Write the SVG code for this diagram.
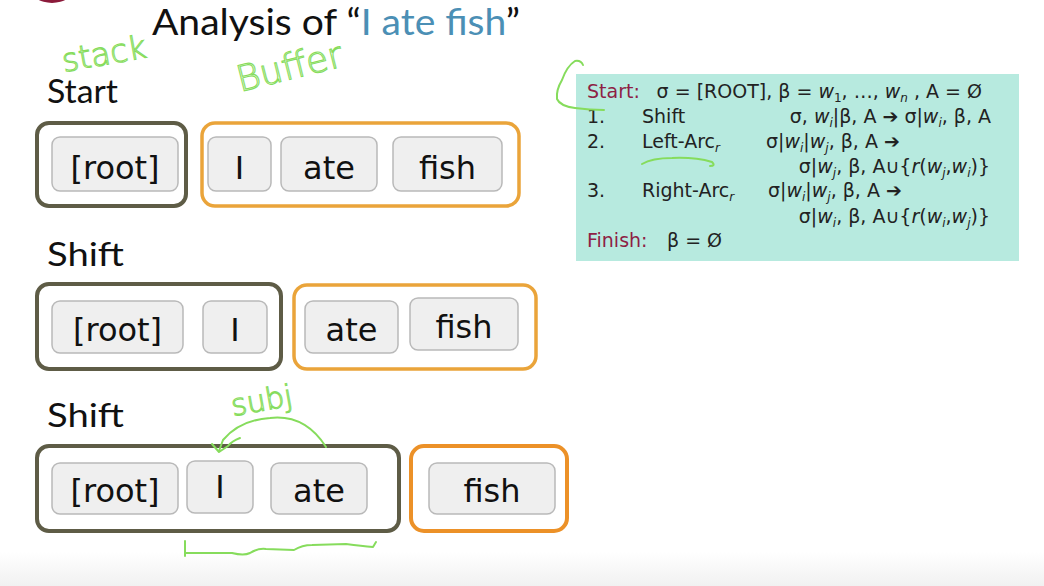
<svg xmlns="http://www.w3.org/2000/svg" width="1044" height="586" viewBox="0 0 1044 586">
<defs>
<linearGradient id="floor" x1="0" y1="0" x2="0" y2="1">
<stop offset="0" stop-color="#ffffff"/>
<stop offset="1" stop-color="#f1f1f1"/>
</linearGradient>
<style>
.title{font-family:"Lato","Open Sans",sans-serif;font-size:37px;fill:#111}
.lbl{font-family:"Lato","Open Sans",sans-serif;font-size:33px;fill:#111}
.stack{fill:#fff;stroke:#5e5c46;stroke-width:4}
.buf{fill:#fff;stroke:#eaa43a;stroke-width:3.5}
.buf2{fill:#fff;stroke:#ec9128;stroke-width:4}
.tok{fill:#efefef;stroke:#b9b9b9;stroke-width:1.5}
.tt{font-family:"DejaVu Sans",sans-serif;font-size:32px;fill:#111;text-anchor:middle}
.p{font-family:"DejaVu Sans",sans-serif;font-size:19px;fill:#222}
.kw{fill:#8e1f45}
.it{font-style:italic}
.sb{font-size:12px}
.hw{font-family:"DejaVu Sans",sans-serif;font-weight:200;fill:none;stroke:#86dc5c;stroke-width:1.1}
.ink{fill:none;stroke:#86dc5c;stroke-width:2;stroke-linecap:round;stroke-linejoin:round}
</style>
</defs>
<rect width="1044" height="586" fill="#fff"/>
<rect y="552" width="1044" height="34" fill="url(#floor)"/>
<ellipse cx="52" cy="-12" rx="22" ry="15" fill="#8b1a3a"/>

<g id="title">
<text class="title" x="152" y="35" textLength="368" lengthAdjust="spacingAndGlyphs">Analysis of “<tspan fill="#4b8fb5">I ate fish</tspan>”</text>
</g>

<g id="labels">
<text class="lbl" x="47" y="103" textLength="71" lengthAdjust="spacingAndGlyphs">Start</text>
<text class="lbl" x="47" y="266" textLength="77" lengthAdjust="spacingAndGlyphs">Shift</text>
<text class="lbl" x="47" y="427" textLength="77" lengthAdjust="spacingAndGlyphs">Shift</text>
</g>

<!-- Row 1 -->
<g id="stack1">
<rect class="stack" x="37" y="123" width="149" height="83" rx="12"/>
<rect class="tok" x="52" y="137" width="126" height="54" rx="8"/>
<text class="tt" x="115" y="179">[root]</text>
</g>
<g id="buffer1">
<rect class="buf" x="202" y="123" width="317" height="83" rx="13"/>
<rect class="tok" x="208" y="137" width="63" height="54" rx="8"/>
<text class="tt" x="239.5" y="179">I</text>
<rect class="tok" x="281" y="137" width="96" height="54" rx="8"/>
<text class="tt" x="329" y="179">ate</text>
<rect class="tok" x="393" y="137" width="109" height="54" rx="8"/>
<text class="tt" x="447.5" y="179">fish</text>
</g>

<!-- Row 2 -->
<g id="stack2">
<rect class="stack" x="37" y="284" width="244" height="85" rx="12"/>
<rect class="tok" x="52" y="301" width="131" height="52" rx="8"/>
<text class="tt" x="117.5" y="341">[root]</text>
<rect class="tok" x="203" y="301" width="64" height="52" rx="8"/>
<text class="tt" x="235" y="341">I</text>
</g>
<g id="buffer2">
<rect class="buf" x="294" y="285" width="242" height="84" rx="13"/>
<rect class="tok" x="305" y="301" width="93" height="52" rx="8"/>
<text class="tt" x="351.5" y="341">ate</text>
<rect class="tok" x="410" y="298" width="108" height="52" rx="8"/>
<text class="tt" x="464" y="338">fish</text>
</g>

<!-- Row 3 -->
<g id="stack3">
<rect class="stack" x="37" y="446" width="362" height="85" rx="12"/>
<rect class="tok" x="52" y="463" width="126" height="51" rx="8"/>
<text class="tt" x="115" y="502">[root]</text>
<rect class="tok" x="187" y="461" width="66" height="52" rx="8"/>
<text class="tt" x="220" y="498">I</text>
<rect class="tok" x="271" y="463" width="96" height="51" rx="8"/>
<text class="tt" x="319" y="502">ate</text>
</g>
<g id="buffer3">
<rect class="buf2" x="411" y="446" width="156" height="85" rx="13"/>
<rect class="tok" x="429" y="463" width="126" height="51" rx="8"/>
<text class="tt" x="492" y="502">fish</text>
</g>

<!-- Rules panel -->
<g id="rules">
<rect x="576" y="74" width="443" height="187" fill="#b7eadf"/>
<text class="p" x="587" y="98"><tspan class="kw">Start:</tspan></text>
<text class="p" x="982" y="98" text-anchor="end">σ = [ROOT], β = <tspan class="it">w</tspan><tspan class="sb" dy="4">1</tspan><tspan dy="-4">, …, </tspan><tspan class="it">w</tspan><tspan class="it sb" dy="4">n</tspan><tspan dy="-4"> , A = Ø</tspan></text>

<text class="p" x="587" y="123">1.</text>
<text class="p" x="642" y="123">Shift</text>
<text class="p" x="991" y="123" text-anchor="end">σ, <tspan class="it">w</tspan><tspan class="it sb" dy="4">i</tspan><tspan dy="-4">|β, A ➔ σ|</tspan><tspan class="it">w</tspan><tspan class="it sb" dy="4">i</tspan><tspan dy="-4">, β, A</tspan></text>

<text class="p" x="587" y="148">2.</text>
<text class="p" x="642" y="148">Left-Arc<tspan class="it sb" dy="4">r</tspan></text>
<text class="p" x="766" y="148">σ|<tspan class="it">w</tspan><tspan class="it sb" dy="4">i</tspan><tspan dy="-4">|</tspan><tspan class="it">w</tspan><tspan class="it sb" dy="4">j</tspan><tspan dy="-4">, β, A ➔</tspan></text>
<text class="p" x="990" y="173" text-anchor="end">σ|<tspan class="it">w</tspan><tspan class="it sb" dy="4">j</tspan><tspan dy="-4">, β, A∪{</tspan><tspan class="it">r</tspan>(<tspan class="it">w</tspan><tspan class="it sb" dy="4">j</tspan><tspan dy="-4">,</tspan><tspan class="it">w</tspan><tspan class="it sb" dy="4">i</tspan><tspan dy="-4">)}</tspan></text>

<text class="p" x="587" y="197">3.</text>
<text class="p" x="642" y="197">Right-Arc<tspan class="it sb" dy="4">r</tspan></text>
<text class="p" x="768" y="197">σ|<tspan class="it">w</tspan><tspan class="it sb" dy="4">i</tspan><tspan dy="-4">|</tspan><tspan class="it">w</tspan><tspan class="it sb" dy="4">j</tspan><tspan dy="-4">, β, A ➔</tspan></text>
<text class="p" x="990" y="223" text-anchor="end">σ|<tspan class="it">w</tspan><tspan class="it sb" dy="4">i</tspan><tspan dy="-4">, β, A∪{</tspan><tspan class="it">r</tspan>(<tspan class="it">w</tspan><tspan class="it sb" dy="4">i</tspan><tspan dy="-4">,</tspan><tspan class="it">w</tspan><tspan class="it sb" dy="4">j</tspan><tspan dy="-4">)}</tspan></text>

<text class="p" x="587" y="247"><tspan class="kw">Finish:</tspan></text>
<text class="p" x="667" y="247">β = Ø</text>
</g>

<!-- Handwritten annotations -->
<g id="notes">
<text class="hw" font-size="32" transform="translate(64 72) rotate(-10)">stack</text>
<text class="hw" font-size="36" transform="translate(240 92) rotate(-14)">Buffer</text>
<text class="hw" font-size="30" transform="translate(233 416) rotate(-10)">subj</text>
<path class="ink" d="M583 65 Q581 60 575 61 Q567 66 562 80 Q556 90 557 99 Q560 106 575 108 Q590 110 604 110"/>
<path class="ink" d="M642 164 Q652 158 672 158 Q695 157 712 162 Q716 166 710 166"/>
<path class="ink" d="M185 541 L185 556 M186 553 L232 553 Q244 556 250 553 Q258 548 266 549 L294 550 Q302 545 312 545 L346 544 Q362 546 373 547 L376 542"/>
</g>

<g id="connectors">
<path class="ink" d="M326 447 Q305 414 270 418 Q240 420 223 440 L219 451"/>
<path class="ink" d="M212 444 L219 452 L228 446 Q232 441 240 438"/>
</g>
</svg>
